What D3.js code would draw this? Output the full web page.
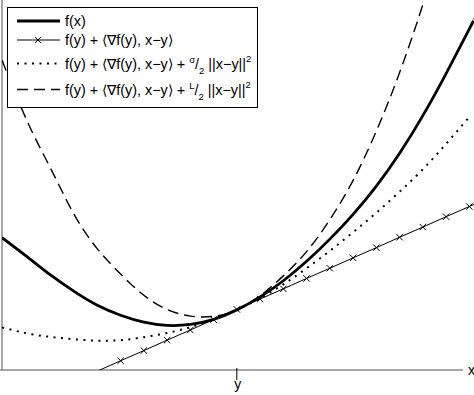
<!DOCTYPE html>
<html>
<head>
<meta charset="utf-8">
<script src="https://cdn.jsdelivr.net/npm/d3@7"></script>
<style>
  html, body { margin: 0; padding: 0; background: #fff; }
  svg { display: block; }
  text { font-family: "Liberation Sans", Arial, sans-serif; fill: #000; }
</style>
</head>
<body>
<svg width="474" height="395"></svg>
<script>
// values (x in units of the marker spacing, tangent point at x = 0)
var xs       = [-10.1, -9, -8, -7, -6, -5, -4, -3, -2, -1, 0, 1, 2, 3, 4, 5, 6, 7, 8, 9, 10, 10.2]
var fVals    = [5.72, 4.88, 4.10, 3.40, 2.80, 2.37, 2.07, 1.93, 1.97, 2.19, 2.60, 3.16, 3.86, 4.70, 5.66, 6.73, 7.95, 9.37, 11.00, 12.82, 14.75, 15.15]
var tanVals  = [-1.87, -1.39, -0.94, -0.50, -0.05, 0.40, 0.84, 1.29, 1.73, 2.18, 2.62, 3.07, 3.51, 3.96, 4.40, 4.85, 5.29, 5.74, 6.18, 6.63, 7.07, 7.16]
var lowVals  = [1.84, 1.58, 1.43, 1.33, 1.27, 1.29, 1.42, 1.60, 1.85, 2.19, 2.60, 3.10, 3.70, 4.40, 5.15, 5.96, 6.80, 7.71, 8.68, 9.78, 10.94, null]
var highVals = [13.4, 10.72, 8.70, 6.73, 5.24, 4.15, 3.23, 2.62, 2.33, 2.32, 2.60, 3.21, 4.07, 5.12, 6.50, 8.20, 10.33, 12.86, 15.8, 19.2, 23.0, 23.8]
var tickLabel = 'y'
var axisLabel = 'x'

var svg = d3.select('svg')

var x = d3.scaleLinear().domain([-10.1, 10.2]).range([2, 474])
var y = d3.scaleLinear().domain([0, 16]).range([370, 0])

function pts(vals) {
    return xs.map(function (v, i) { return { x: v, y: vals[i] } })
}

var smooth = d3.line()
    .defined(function (d) { return d.y != null })
    .x(function (d) { return x(d.x) })
    .y(function (d) { return y(d.y) })
    .curve(d3.curveNatural)

var straight = d3.line()
    .x(function (d) { return x(d.x) })
    .y(function (d) { return y(d.y) })

// clip to the axes box
svg.append('clipPath').attr('id', 'plot')
    .append('rect')
    .attr('x', x(-10.1)).attr('y', 0)
    .attr('width', x(10.2) - x(-10.1)).attr('height', y(0))

// axes (gray)
svg.append('line')
    .attr('x1', 0).attr('x2', 463)
    .attr('y1', y(0)).attr('y2', y(0))
    .attr('stroke', '#8a8a8a').attr('stroke-width', 1.5)
svg.append('line')
    .attr('x1', x(-10.1)).attr('x2', x(-10.1))
    .attr('y1', y(0)).attr('y2', 0)
    .attr('stroke', '#8a8a8a').attr('stroke-width', 1.5)
svg.append('text')
    .attr('x', 468).attr('y', y(0) + 5)
    .style('font-size', '14px')
    .text(axisLabel)

// tick at y
svg.append('line')
    .attr('x1', x(0)).attr('x2', x(0))
    .attr('y1', y(0) - 2).attr('y2', y(0) + 10)
    .attr('stroke', '#000').attr('stroke-width', 1)
svg.append('text')
    .attr('x', x(0) + 1).attr('y', y(0) + 19)
    .attr('text-anchor', 'middle')
    .style('font-size', '14px')
    .text(tickLabel)

var g = svg.append('g').attr('clip-path', 'url(#plot)')

// dashed upper bound
g.append('path').datum(pts(highVals))
    .attr('d', smooth)
    .attr('fill', 'none').attr('stroke', '#000')
    .attr('stroke-width', 1.4).attr('stroke-dasharray', '11 6')

// dotted lower bound
g.append('path').datum(pts(lowVals))
    .attr('d', smooth)
    .attr('fill', 'none').attr('stroke', '#000')
    .attr('stroke-width', 2).attr('stroke-dasharray', '2 5.5')

// tangent line with x markers
g.append('path').datum(pts(tanVals))
    .attr('d', straight)
    .attr('fill', 'none').attr('stroke', '#000').attr('stroke-width', 1)

var marks = pts(tanVals).filter(function (d) { return Number.isInteger(d.x) && d.y > 0 })
g.selectAll('path.mark').data(marks).enter().append('path')
    .attr('class', 'mark')
    .attr('d', function (d) {
        var cx = x(d.x), cy = y(d.y), r = 3.2
        return 'M' + (cx - r) + ',' + (cy - r) + 'L' + (cx + r) + ',' + (cy + r) +
            'M' + (cx - r) + ',' + (cy + r) + 'L' + (cx + r) + ',' + (cy - r)
    })
    .attr('stroke', '#000').attr('stroke-width', 1)

// f(x)
g.append('path').datum(pts(fVals))
    .attr('d', smooth)
    .attr('fill', 'none').attr('stroke', '#000').attr('stroke-width', 2.8)

// legend
var lg = svg.append('g')
lg.append('rect')
    .attr('x', 7.5).attr('y', 7.5).attr('width', 250).attr('height', 100)
    .attr('fill', '#fff').attr('stroke', '#000').attr('stroke-width', 1)

var rowY = [21, 40, 63.5, 89.5]
var styles = [
    { w: 2.8, dash: null },
    { w: 1, dash: null },
    { w: 2, dash: '2 5.5' },
    { w: 1.4, dash: '11 6' }
]
rowY.forEach(function (ry, i) {
    lg.append('line')
        .attr('x1', 17).attr('x2', 60).attr('y1', ry).attr('y2', ry)
        .attr('stroke', '#000').attr('stroke-width', styles[i].w)
        .attr('stroke-dasharray', styles[i].dash)
})
lg.append('path')
    .attr('d', 'M35,37L41,43M35,43L41,37')
    .attr('stroke', '#000').attr('stroke-width', 1)

var base = 'f(y) + \u27E8\u2207f(y), x\u2212y\u27E9'
function txt(ry) {
    return lg.append('text').attr('x', 65).attr('y', ry + 5).style('font-size', '14.4px')
}
txt(rowY[0]).text('f(x)')
txt(rowY[1]).text(base)
;[['\u03C3', 2], ['L', 3]].forEach(function (p) {
    var t = txt(rowY[p[1]])
    t.append('tspan').text(base + ' + ')
    t.append('tspan').attr('dy', -6).style('font-size', '9.5px').text(p[0])
    t.append('tspan').attr('dy', 6).text('/')
    t.append('tspan').attr('dy', 5).style('font-size', '9.5px').text('2')
    t.append('tspan').attr('dy', -5).text(' ||x\u2212y||')
    t.append('tspan').attr('dy', -7).style('font-size', '9.5px').text('2')
})
</script>
</body>
</html>
